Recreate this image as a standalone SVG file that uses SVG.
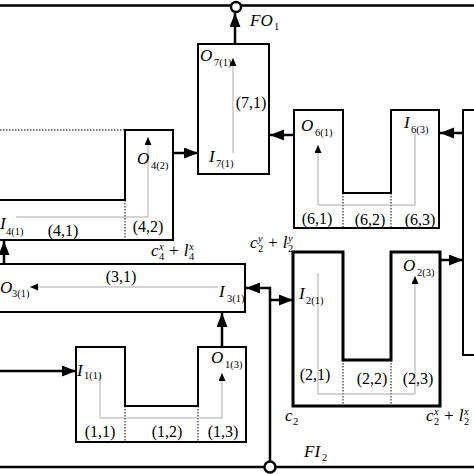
<svg xmlns="http://www.w3.org/2000/svg" width="474" height="474" viewBox="0 0 474 474">
<style>
.bx{fill:none;stroke:#000;stroke-width:2}
.bx3{fill:none;stroke:#000;stroke-width:3}
.dot{fill:none;stroke:#000;stroke-width:1;stroke-dasharray:1.5,1.5}
.gr{fill:none;stroke:#aaa;stroke-width:1}
.cn{fill:none;stroke:#000;stroke-width:2.5}
.v{font-family:"Liberation Serif",serif;font-style:italic;font-size:17px;fill:#000}
.s{font-family:"Liberation Serif",serif;font-size:10.5px;fill:#000}
.si{font-family:"Liberation Serif",serif;font-style:italic;font-size:10.5px;fill:#000}
.t{font-family:"Liberation Serif",serif;font-size:16px;fill:#000;text-anchor:middle}
</style>
<defs>
<marker id="sa" markerWidth="8" markerHeight="8" refX="8" refY="3.5" orient="auto" markerUnits="userSpaceOnUse"><path d="M0,0 L8,3.5 L0,7 z" fill="#000"/></marker>
<marker id="ta" markerWidth="14" markerHeight="12" refX="14" refY="5.5" orient="auto" markerUnits="userSpaceOnUse"><path d="M0,0 L14,5.5 L0,11 z" fill="#000"/></marker>
</defs>
<rect width="474" height="474" fill="#fff"/>

<g id="connectors">
<path class="cn" d="M0,5.5 H474"/>
<path class="cn" d="M0,467 H474"/>
<path class="cn" d="M235,44 V13" marker-end="url(#ta)"/>
<path class="cn" d="M173,153 H198" marker-end="url(#ta)"/>
<path class="cn" d="M294,135 H270" marker-end="url(#ta)"/>
<path class="cn" d="M463,133 H440" marker-end="url(#ta)"/>
<path class="cn" d="M440,260 H463" marker-end="url(#ta)"/>
<path class="cn" d="M4,264 V241" marker-end="url(#ta)"/>
<path class="cn" d="M222,347 V313" marker-end="url(#ta)"/>
<path class="cn" d="M0,371 H76" marker-end="url(#ta)"/>
<path class="cn" d="M270,462 V288 H246" marker-end="url(#ta)"/>
<path class="cn" d="M270,300 H293" marker-end="url(#ta)"/>
<circle cx="236" cy="7" r="5" fill="#fff" stroke="#000" stroke-width="2.5"/>
<circle cx="270" cy="467" r="5.5" fill="#fff" stroke="#000" stroke-width="2.5"/>
<text class="v" x="250" y="26">FO</text><text class="s" x="274" y="30">1</text>
<text class="v" x="304" y="457">FI</text><text class="s" x="322" y="461">2</text>
</g>

<g id="box7">
<rect class="bx" x="198" y="44" width="71" height="130"/>
<path class="gr" d="M233,153 V58" marker-end="url(#sa)"/>
<text class="v" x="200" y="61">O</text><text class="s" x="214" y="66">7(1)</text>
<text class="v" x="209" y="162">I</text><text class="s" x="216" y="167">7(1)</text>
<text class="t" x="251" y="108">(7,1)</text>
</g>

<g id="box4">
<path class="dot" d="M0,130 H125"/>
<path class="bx" d="M-5,200 H125 V130 H173 V240 H-5"/>
<path class="dot" d="M125,200 V240"/>
<path class="gr" d="M16,217 H148 V137" marker-end="url(#sa)"/>
<text class="v" x="137" y="164">O</text><text class="s" x="151" y="169">4(2)</text>
<text class="v" x="0" y="229">I</text><text class="s" x="6" y="235">4(1)</text>
<text class="t" x="63" y="236">(4,1)</text>
<text class="t" x="148" y="232">(4,2)</text>
<text class="v" x="151" y="256">c</text><text class="si" x="159" y="250">x</text><text class="s" x="159" y="260">4</text>
<text class="v" x="168" y="256">+ l</text><text class="si" x="189" y="250">x</text><text class="s" x="189" y="260">4</text>
</g>

<g id="box3">
<rect class="bx" x="-5" y="264" width="250" height="48"/>
<path class="gr" d="M218,287 H30" marker-end="url(#sa)"/>
<text class="v" x="0" y="293">O</text><text class="s" x="12" y="297">3(1)</text>
<text class="t" x="121" y="282">(3,1)</text>
<text class="v" x="219" y="297">I</text><text class="s" x="227" y="302">3(1)</text>
</g>

<g id="box1">
<path class="bx" d="M76,347 H125 V406 H198 V347 H246 V442 H76 Z"/>
<path class="dot" d="M125,406 V442 M198,406 V442"/>
<path class="gr" d="M100,372 V418 H222 V373" marker-end="url(#sa)"/>
<text class="v" x="77" y="376">I</text><text class="s" x="84" y="379">1(1)</text>
<text class="v" x="211" y="363">O</text><text class="s" x="225" y="368">1(3)</text>
<text class="t" x="100" y="437">(1,1)</text>
<text class="t" x="167" y="437">(1,2)</text>
<text class="t" x="223" y="437">(1,3)</text>
</g>

<g id="box2">
<path class="bx3" d="M293,252 H343 V360 H391 V252 H440 V406 H293 Z"/>
<path class="dot" d="M343,360 V406 M391,360 V406"/>
<path class="gr" d="M318,273 V394 H415 V276" marker-end="url(#sa)"/>
<text class="v" x="299" y="299">I</text><text class="s" x="306" y="304">2(1)</text>
<text class="v" x="403" y="271">O</text><text class="s" x="417" y="276">2(3)</text>
<text class="t" x="315" y="380">(2,1)</text>
<text class="t" x="372" y="384">(2,2)</text>
<text class="t" x="418" y="384">(2,3)</text>
<text class="v" x="285" y="421">c</text><text class="s" x="293" y="425">2</text>
<text class="v" x="426" y="421">c</text><text class="si" x="434" y="415">x</text><text class="s" x="434" y="425">2</text>
<text class="v" x="443" y="421">+ l</text><text class="si" x="464" y="415">x</text><text class="s" x="464" y="425">2</text>
<text class="v" x="250" y="248">c</text><text class="si" x="258" y="242">y</text><text class="s" x="258" y="252">2</text>
<text class="v" x="267" y="248">+ l</text><text class="si" x="288" y="242">y</text><text class="s" x="288" y="252">2</text>
</g>

<g id="box6">
<path class="bx" d="M294,110 H343 V193 H391 V110 H439 V228 H294 Z"/>
<path class="dot" d="M343,193 V228 M391,193 V228"/>
<path class="gr" d="M415,133 V205 H318 V145" marker-end="url(#sa)"/>
<text class="v" x="301" y="131">O</text><text class="s" x="315" y="136">6(1)</text>
<text class="v" x="404" y="128">I</text><text class="s" x="411" y="133">6(3)</text>
<text class="t" x="317" y="224">(6,1)</text>
<text class="t" x="370" y="225">(6,2)</text>
<text class="t" x="420" y="225">(6,3)</text>
</g>

<g id="box5">
<path class="bx" d="M480,110 H463 V355 H480"/>
</g>
</svg>
